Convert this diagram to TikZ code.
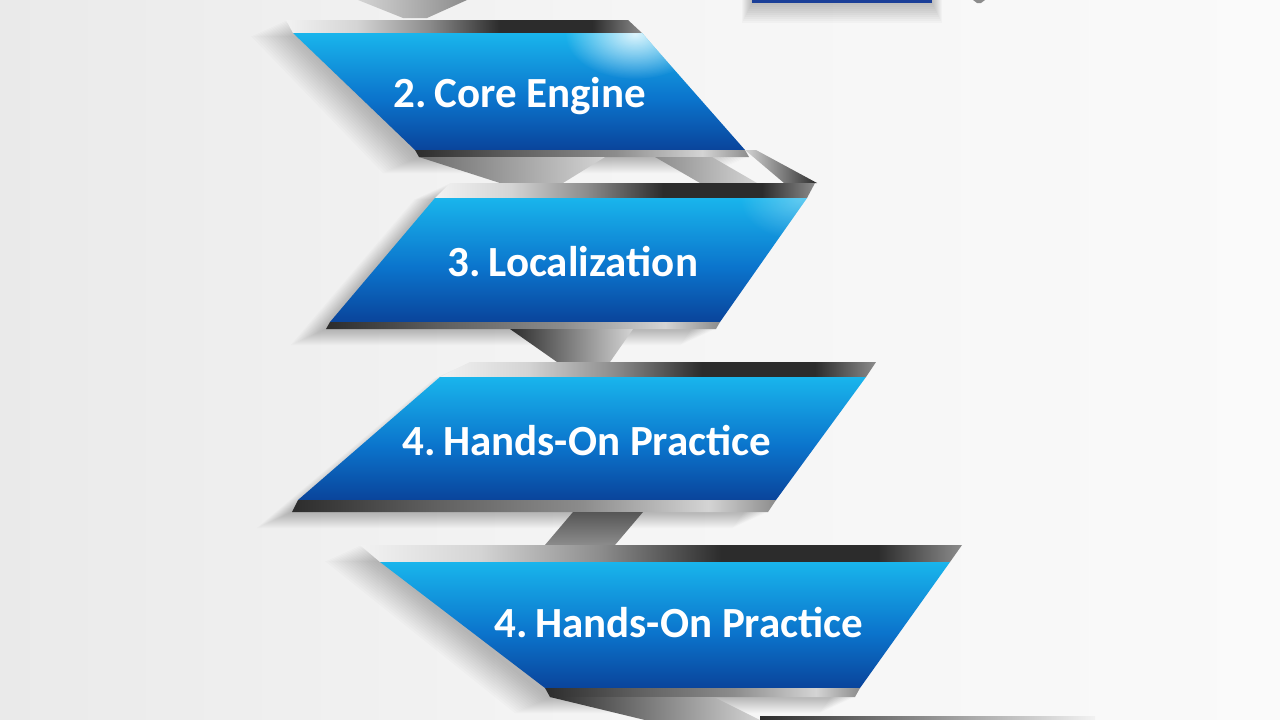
\documentclass[tikz,border=0pt]{standalone}
\usepackage{fontspec}
\setmainfont{Carlito}
\usetikzlibrary{fadings}
\definecolor{ribtop}{HTML}{19B5EC}
\definecolor{ribmid}{HTML}{0B74CC}
\definecolor{ribbot}{HTML}{0A449B}
\definecolor{mdark}{HTML}{2C2C2C}
\definecolor{mmid}{HTML}{8C8C8C}
\definecolor{mlight}{HTML}{D4D4D4}
\definecolor{mwhite}{HTML}{F2F2F2}
\definecolor{bgl}{HTML}{EAEAEA}
\definecolor{bgm}{HTML}{F5F5F5}
\definecolor{bgr}{HTML}{FAFAFA}
\definecolor{barblue}{HTML}{1B3F98}
\pgfdeclarehorizontalshading{bgshade}{100bp}{color(0bp)=(bgl); color(25bp)=(bgl); color(50bp)=(bgm); color(75bp)=(bgr); color(100bp)=(bgr)}
\pgfdeclareverticalshading{ribbon}{100bp}{color(0bp)=(ribbot); color(25bp)=(ribbot); color(47bp)=(ribmid); color(75bp)=(ribtop); color(100bp)=(ribtop)}
\pgfdeclarehorizontalshading{topband}{100bp}{color(0bp)=(mwhite); color(25bp)=(mwhite); color(35bp)=(mlight); color(45bp)=(mmid); color(55bp)=(mdark); color(68bp)=(mdark); color(75bp)=(mmid); color(100bp)=(mmid)}
\pgfdeclarehorizontalshading{botband}{100bp}{color(0bp)=(mdark); color(25bp)=(mdark); color(40bp)=(mdark!75!white); color(55bp)=(mmid); color(68bp)=(mlight); color(75bp)=(mmid); color(100bp)=(mmid)}
\tikzfading[name=glow, inner color=transparent!0, outer color=transparent!100]
\newcommand\dropshadow[1]{\foreach \k in {1,...,16}{\fill[black,opacity=0.016,shift={(-2.2*\k,1*\k)}] #1;}}
\tikzset{
  blueribbon/.style={shading=ribbon},
  tband/.style={shading=topband},
  bband/.style={shading=botband},
  lbl/.style={text=white, anchor=base, inner sep=0pt, font=\fontsize{43}{50}\selectfont\bfseries}
}
\begin{document}
\begin{tikzpicture}[x=1pt,y=-1pt]
\useasboundingbox (0,0) rectangle (1280,720);
\shade[shading=bgshade] (0,0) rectangle (1280,720);

% soft shadows
\dropshadow{(286,20)--(628,20)--(748,157)--(418,157)--cycle}
\dropshadow{(450,183)--(815,183)--(716,329)--(326,329)--cycle}
\dropshadow{(470,362)--(876,362)--(768,512)--(292,512)--cycle}
\dropshadow{(360,545)--(962,545)--(855,697)--(550,697)--cycle}
\foreach \k in {1,...,10}{\fill[black,opacity=0.025] (752-\k,0) rectangle (932+\k,3+2*\k);}

% top partial pieces
\shade[left color=mlight, right color=mmid] (358,0)--(467,0)--(427,18)--(403,18)--cycle;
\fill[barblue] (752,0) rectangle (932,3);
\fill[mmid] (973,0)--(985,0)--(981,3)--(977,3)--cycle;

% ribbon 2
\shade[tband] (286,20)--(628,20)--(642,33)--(293,33)--cycle;
\shade[blueribbon] (293,33)--(642,33)--(745,150)--(415,150)--cycle;
\begin{scope}
  \clip (293,33)--(642,33)--(745,150)--(415,150)--cycle;
  \fill[white,path fading=glow,opacity=0.85] (635,34) ellipse (70 and 45);
\end{scope}
\shade[bband] (415,150)--(745,150)--(749,157)--(419,157)--cycle;
% connector 2-3
\shade[left color=mdark!70!white, right color=mlight] (419,157)--(605,157)--(563,183)--(500,183)--cycle;
\shade[left color=mmid, right color=mlight] (655,157)--(712,157)--(757,183)--(700,183)--cycle;
\shade[left color=mlight, right color=mdark] (745,150)--(756,150)--(817,183)--(784,183)--cycle;

% ribbon 3
\shade[tband] (450,183)--(815,183)--(807,198)--(435,198)--cycle;
\shade[blueribbon] (435,198)--(807,198)--(720,322)--(330,322)--cycle;
\begin{scope}
  \clip (435,198)--(807,198)--(720,322)--(330,322)--cycle;
  \fill[white,path fading=glow,opacity=0.3] (800,200) ellipse (60 and 40);
\end{scope}
\shade[bband] (330,322)--(720,322)--(716,329)--(326,329)--cycle;
% connector 3-4
\shade[left color=mdark, right color=mlight] (510,329)--(633,329)--(610,362)--(557,362)--cycle;

% ribbon 4
\shade[tband] (470,362)--(876,362)--(866,377)--(440,377)--cycle;
\shade[blueribbon] (440,377)--(866,377)--(776,500)--(298,500)--cycle;
\shade[bband] (298,500)--(776,500)--(768,512)--(292,512)--cycle;
% connector 4-5
\shade[top color=mdark!80!white, bottom color=mmid] (573,512)--(643,512)--(615,545)--(545,545)--cycle;

% ribbon 5
\shade[tband] (360,545)--(962,545)--(950,562)--(380,562)--cycle;
\shade[blueribbon] (380,562)--(950,562)--(860,688)--(545,688)--cycle;
\shade[bband] (545,688)--(860,688)--(855,697)--(550,697)--cycle;
% tail below ribbon 5
\shade[left color=mdark, right color=mlight] (550,697)--(714,697)--(760,720)--(645,720)--cycle;
\shade[left color=mdark, right color=mwhite] (760,716) rectangle (1095,720);

% labels
\node[lbl] (t2) at (520,107) {2.\hspace{0.17em}Core Engine};
\node[lbl] (t3) at (573,276) {3.\hspace{0.17em}Localization};
\node[lbl] (t4) at (587,455) {4.\hspace{0.17em}Hands-On Practice};
\node[lbl] (t5) at (679,637) {4.\hspace{0.17em}Hands-On Practice};
\end{tikzpicture}
\end{document}
